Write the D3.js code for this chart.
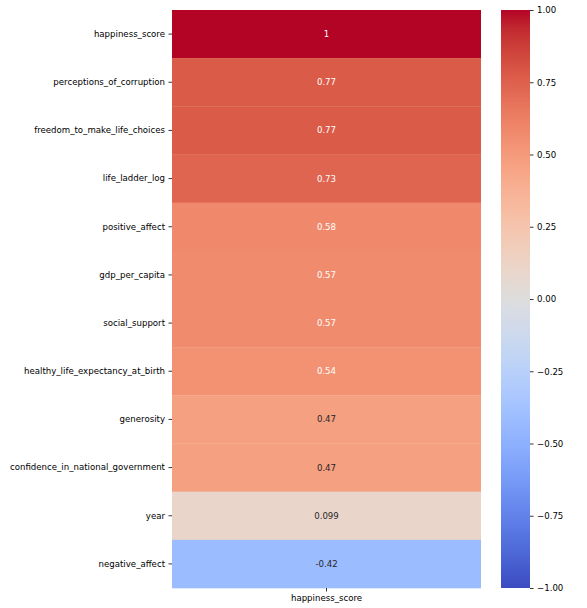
<!DOCTYPE html>
<html>
<head>
<meta charset="utf-8">
<script src="https://cdn.jsdelivr.net/npm/d3@7"></script>
<style>
  body { margin: 0; background: #fff; }
  svg text { font-family: "DejaVu Sans", sans-serif; }
</style>
</head>
<body>
<div id="chart"></div>
<script>
// ---- data ----
const variables = [
  "happiness_score",
  "perceptions_of_corruption",
  "freedom_to_make_life_choices",
  "life_ladder_log",
  "positive_affect",
  "gdp_per_capita",
  "social_support",
  "healthy_life_expectancy_at_birth",
  "generosity",
  "confidence_in_national_government",
  "year",
  "negative_affect",
];
const correlations = [1, 0.77, 0.77, 0.73, 0.58, 0.57, 0.57, 0.54, 0.47, 0.47, 0.099, -0.42];
const annotations = ["1", "0.77", "0.77", "0.73", "0.58", "0.57", "0.57", "0.54", "0.47", "0.47", "0.099", "-0.42"];
const columns = ["happiness_score"];
const colorbarTicks = [1, 0.75, 0.5, 0.25, 0, -0.25, -0.5, -0.75, -1];

// coolwarm (Moreland) control points
const coolwarm = [
  [59,76,192],[68,90,204],[77,104,215],[87,117,225],[98,130,234],[108,142,241],
  [119,154,247],[130,165,251],[141,176,254],[152,185,255],[163,194,255],[174,201,253],
  [184,208,249],[194,213,244],[204,217,238],[213,219,230],[221,221,221],[229,216,209],
  [236,211,197],[241,204,185],[245,196,173],[247,187,160],[247,177,148],[247,166,135],
  [244,154,123],[241,141,111],[236,127,99],[229,112,88],[222,96,77],[213,80,66],
  [203,62,56],[192,40,47],[180,4,38],
];

// ---- layout ----
const W = 587, H = 608;
const heat = { left: 172, right: 481, top: 10, bottom: 588 };
const cbar = { left: 501, right: 530 };
const fontSize = "8.6px";

const interp = d3.piecewise(d3.interpolateRgb, coolwarm.map((c) => d3.rgb(...c)));
const color = d3.scaleSequential(interp).domain([-1, 1]);

// seaborn style: dark text on light cells
const luminance = (c) => {
  const rgb = d3.rgb(c);
  const lin = [rgb.r, rgb.g, rgb.b].map((v) => {
    v = v / 255;
    return v <= 0.03928 ? v / 12.92 : Math.pow((v + 0.055) / 1.055, 2.4);
  });
  return 0.2126 * lin[0] + 0.7152 * lin[1] + 0.0722 * lin[2];
};

const styleAxis = (g) => {
  g.select(".domain").remove();
  g.selectAll("text")
    .attr("font-size", fontSize)
    .attr("fill", "#000")
    .style("font-family", '"DejaVu Sans", sans-serif');
  g.selectAll("line").attr("stroke", "#000").attr("stroke-width", 0.8);
};

const svg = d3.select("#chart").append("svg").attr("width", W).attr("height", H);

const y = d3.scaleBand().domain(variables).range([heat.top, heat.bottom]);
const x = d3.scaleBand().domain(columns).range([heat.left, heat.right]);

const cells = svg.append("g")
  .selectAll("g")
  .data(variables)
  .enter()
  .append("g");

cells.append("rect")
  .attr("x", x(columns[0]))
  .attr("y", (d) => y(d))
  .attr("width", x.bandwidth())
  .attr("height", y.bandwidth() + 0.3)
  .attr("fill", (d, i) => color(correlations[i]));

cells.append("text")
  .attr("x", x(columns[0]) + x.bandwidth() / 2)
  .attr("y", (d) => y(d) + y.bandwidth() / 2)
  .attr("dy", "0.35em")
  .attr("text-anchor", "middle")
  .attr("font-size", fontSize)
  .attr("fill", (d, i) => (luminance(color(correlations[i])) > 0.408 ? "#262626" : "#ffffff"))
  .text((d, i) => annotations[i]);

// y axis
svg.append("g")
  .attr("transform", `translate(${heat.left},0)`)
  .call(d3.axisLeft(y).tickSize(3.5).tickPadding(3.5))
  .call(styleAxis);

// x axis
svg.append("g")
  .attr("transform", `translate(0,${heat.bottom})`)
  .call(d3.axisBottom(x).tickSize(3.5).tickPadding(3.5))
  .call(styleAxis);

// colorbar
const cy = d3.scaleLinear().domain([-1, 1]).range([heat.bottom, heat.top]);
const grad = svg.append("defs").append("linearGradient")
  .attr("id", "cbar-grad")
  .attr("x1", 0).attr("y1", 1).attr("x2", 0).attr("y2", 0);
grad.selectAll("stop")
  .data(d3.range(0, 1.0001, 1 / 64))
  .enter()
  .append("stop")
  .attr("offset", (t) => t)
  .attr("stop-color", (t) => color(-1 + 2 * t));

svg.append("rect")
  .attr("x", cbar.left)
  .attr("y", heat.top)
  .attr("width", cbar.right - cbar.left)
  .attr("height", heat.bottom - heat.top)
  .attr("fill", "url(#cbar-grad)");

svg.append("g")
  .attr("transform", `translate(${cbar.right},0)`)
  .call(d3.axisRight(cy)
    .tickValues(colorbarTicks)
    .tickSize(3.5)
    .tickPadding(3.5)
    .tickFormat((d) => d3.format(".2f")(d).replace("-", "\u2212")))
  .call(styleAxis);
</script>
</body>
</html>
